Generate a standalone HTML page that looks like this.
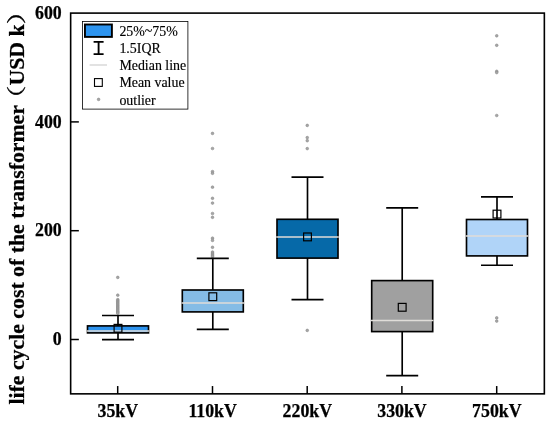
<!DOCTYPE html>
<html><head><meta charset="utf-8"><title>Box plot</title>
<style>html,body{margin:0;padding:0;background:#fff}svg{display:block}</style></head>
<body>
<svg width="550" height="426" viewBox="0 0 550 426">
<rect width="550" height="426" fill="#fff"/>
<g fill="#a6a6a6" stroke="#868686" stroke-width="0.55">
<circle cx="117.77" cy="277.4" r="1.35"/>
<circle cx="117.77" cy="295.2" r="1.35"/>
<circle cx="117.77" cy="299.6" r="1.35"/>
<circle cx="117.77" cy="300.7" r="1.35"/>
<circle cx="117.77" cy="301.7" r="1.35"/>
<circle cx="117.77" cy="302.8" r="1.35"/>
<circle cx="117.77" cy="303.8" r="1.35"/>
<circle cx="117.77" cy="304.9" r="1.35"/>
<circle cx="117.77" cy="305.9" r="1.35"/>
<circle cx="117.77" cy="307.0" r="1.35"/>
<circle cx="117.77" cy="308.0" r="1.35"/>
<circle cx="117.77" cy="309.1" r="1.35"/>
<circle cx="117.77" cy="310.1" r="1.35"/>
<circle cx="117.77" cy="311.2" r="1.35"/>
<circle cx="117.77" cy="312.2" r="1.35"/>
<circle cx="117.77" cy="313.2" r="1.35"/>
<circle cx="212.51" cy="133.4" r="1.35"/>
<circle cx="212.51" cy="148.5" r="1.35"/>
<circle cx="212.51" cy="171.6" r="1.35"/>
<circle cx="212.51" cy="173.3" r="1.35"/>
<circle cx="212.51" cy="187.2" r="1.35"/>
<circle cx="212.51" cy="198.3" r="1.35"/>
<circle cx="212.51" cy="203.1" r="1.35"/>
<circle cx="212.51" cy="213.5" r="1.35"/>
<circle cx="212.51" cy="217.3" r="1.35"/>
<circle cx="212.51" cy="238.2" r="1.35"/>
<circle cx="212.51" cy="240.4" r="1.35"/>
<circle cx="212.51" cy="247.3" r="1.35"/>
<circle cx="212.51" cy="252.0" r="1.35"/>
<circle cx="212.51" cy="253.2" r="1.35"/>
<circle cx="212.51" cy="254.4" r="1.35"/>
<circle cx="212.51" cy="255.6" r="1.35"/>
<circle cx="212.51" cy="256.6" r="1.35"/>
<circle cx="307.25" cy="125.4" r="1.35"/>
<circle cx="307.25" cy="137.6" r="1.35"/>
<circle cx="307.25" cy="140.7" r="1.35"/>
<circle cx="307.25" cy="148.6" r="1.35"/>
<circle cx="307.25" cy="330.4" r="1.35"/>
<circle cx="496.73" cy="35.8" r="1.35"/>
<circle cx="496.73" cy="45.3" r="1.35"/>
<circle cx="496.73" cy="71.3" r="1.35"/>
<circle cx="496.73" cy="72.6" r="1.35"/>
<circle cx="496.73" cy="115.5" r="1.35"/>
<circle cx="496.73" cy="317.9" r="1.35"/>
<circle cx="496.73" cy="321.1" r="1.35"/>
</g>
<g stroke="#000" stroke-width="1.65" fill="none">
<path d="M118.0 315.5V325.9M118.0 332.9V339.6M102.0 315.5H134.0M102.0 339.6H134.0"/>
<rect x="87.5" y="325.9" width="61.0" height="7.0" fill="#2d93ee"/>
</g>
<path d="M86.8 330.9H149.3" stroke="#e0ddd9" stroke-width="1.5"/>
<rect x="114.1" y="324.4" width="7.8" height="7.8" fill="none" stroke="#000" stroke-width="1.2"/>
<g stroke="#000" stroke-width="1.65" fill="none">
<path d="M212.8 258.3V290.0M212.8 311.9V329.4M196.8 258.3H228.8M196.8 329.4H228.8"/>
<rect x="182.3" y="290.0" width="61.0" height="21.9" fill="#85bce6"/>
</g>
<path d="M181.5 303.1H244.0" stroke="#e0ddd9" stroke-width="1.5"/>
<rect x="208.9" y="292.8" width="7.8" height="7.8" fill="none" stroke="#000" stroke-width="1.2"/>
<g stroke="#000" stroke-width="1.65" fill="none">
<path d="M307.5 177.1V219.3M307.5 258.1V299.6M291.5 177.1H323.5M291.5 299.6H323.5"/>
<rect x="277.0" y="219.3" width="61.0" height="38.8" fill="#0669a8"/>
</g>
<path d="M276.2 236.9H338.8" stroke="#e0ddd9" stroke-width="1.5"/>
<rect x="303.6" y="233.0" width="7.8" height="7.8" fill="none" stroke="#000" stroke-width="1.2"/>
<g stroke="#000" stroke-width="1.65" fill="none">
<path d="M402.2 207.8V280.6M402.2 331.6V375.6M386.2 207.8H418.2M386.2 375.6H418.2"/>
<rect x="371.7" y="280.6" width="61.0" height="51.0" fill="#a0a0a0"/>
</g>
<path d="M371.0 320.6H433.5" stroke="#e0ddd9" stroke-width="1.5"/>
<rect x="398.3" y="303.4" width="7.8" height="7.8" fill="none" stroke="#000" stroke-width="1.2"/>
<g stroke="#000" stroke-width="1.65" fill="none">
<path d="M497.0 196.9V219.5M497.0 255.9V265.2M481.0 196.9H513.0M481.0 265.2H513.0"/>
<rect x="466.5" y="219.5" width="61.0" height="36.4" fill="#b0d4f8"/>
</g>
<path d="M465.7 235.9H528.2" stroke="#e0ddd9" stroke-width="1.5"/>
<rect x="493.1" y="210.2" width="7.8" height="7.8" fill="none" stroke="#000" stroke-width="1.2"/>
<rect x="70.65" y="13.1" width="473.70" height="380.75" fill="none" stroke="#000" stroke-width="1.6"/>
<g stroke="#000" stroke-width="1.5">
<path d="M70.65 121.9h8.2"/>
<path d="M70.65 230.7h8.2"/>
<path d="M70.65 339.5h8.2"/>
<path d="M117.7 393.85v-7.8"/>
<path d="M212.5 393.85v-7.8"/>
<path d="M307.2 393.85v-7.8"/>
<path d="M401.9 393.85v-7.8"/>
<path d="M496.7 393.85v-7.8"/>
</g>
<g font-family="'Liberation Serif','Times New Roman',serif" font-weight="700" font-size="17.8px" fill="#000" stroke="#000" stroke-width="0.25">
<text x="61.7" y="18.7" text-anchor="end">600</text>
<text x="61.7" y="127.5" text-anchor="end">400</text>
<text x="61.7" y="236.3" text-anchor="end">200</text>
<text x="61.7" y="345.1" text-anchor="end">0</text>
<text x="117.8" y="417.2" text-anchor="middle">35kV</text>
<text x="212.6" y="417.2" text-anchor="middle">110kV</text>
<text x="307.3" y="417.2" text-anchor="middle">220kV</text>
<text x="402.0" y="417.2" text-anchor="middle">330kV</text>
<text x="496.8" y="417.2" text-anchor="middle">750kV</text>
</g>
<g transform="translate(24.4 404.6) rotate(-90)" font-family="'Liberation Serif','Times New Roman',serif" font-weight="700" font-size="21.8px" fill="#000" stroke="#000" stroke-width="0.25">
<text x="0" y="0">life cycle cost of the transformer</text>
<text x="319" y="0">USD k</text>
<text transform="translate(292.4 -0.5) scale(1.38 1)" font-family="'Noto Serif CJK SC','Liberation Serif',serif" font-weight="400" font-size="19.4px" stroke-width="0.32">（</text>
<text transform="translate(380 -0.5) scale(1.38 1)" font-family="'Noto Serif CJK SC','Liberation Serif',serif" font-weight="400" font-size="19.4px" stroke-width="0.32">）</text>
</g>
<rect x="82.5" y="21.5" width="105.4" height="87.6" fill="#fff" stroke="#000" stroke-width="0.8"/>
<rect x="84.95" y="24.5" width="26.95" height="12.4" fill="#2d94ef" stroke="#000" stroke-width="1.9"/>
<path d="M98.6 41.8V54.1M93.6 41.8h10M93.6 54.1h10" stroke="#000" stroke-width="1.85" fill="none"/>
<path d="M89.6 65H107" stroke="#cfcfcf" stroke-width="1.2"/>
<rect x="94.5" y="78.6" width="7.8" height="7.8" fill="none" stroke="#000" stroke-width="1.1"/>
<circle cx="98.6" cy="99.4" r="1.35" fill="#a6a6a6" stroke="#868686" stroke-width="0.55"/>
<g font-family="'Liberation Serif','Times New Roman',serif" font-size="13.9px" fill="#000" stroke="#000" stroke-width="0.15">
<text x="119.4" y="35.85">25%~75%</text>
<text x="119.4" y="53.05">1.5IQR</text>
<text x="119.4" y="70.05">Median line</text>
<text x="119.4" y="87.35">Mean value</text>
<text x="119.4" y="104.60">outlier</text>
</g>
</svg>
</body></html>
